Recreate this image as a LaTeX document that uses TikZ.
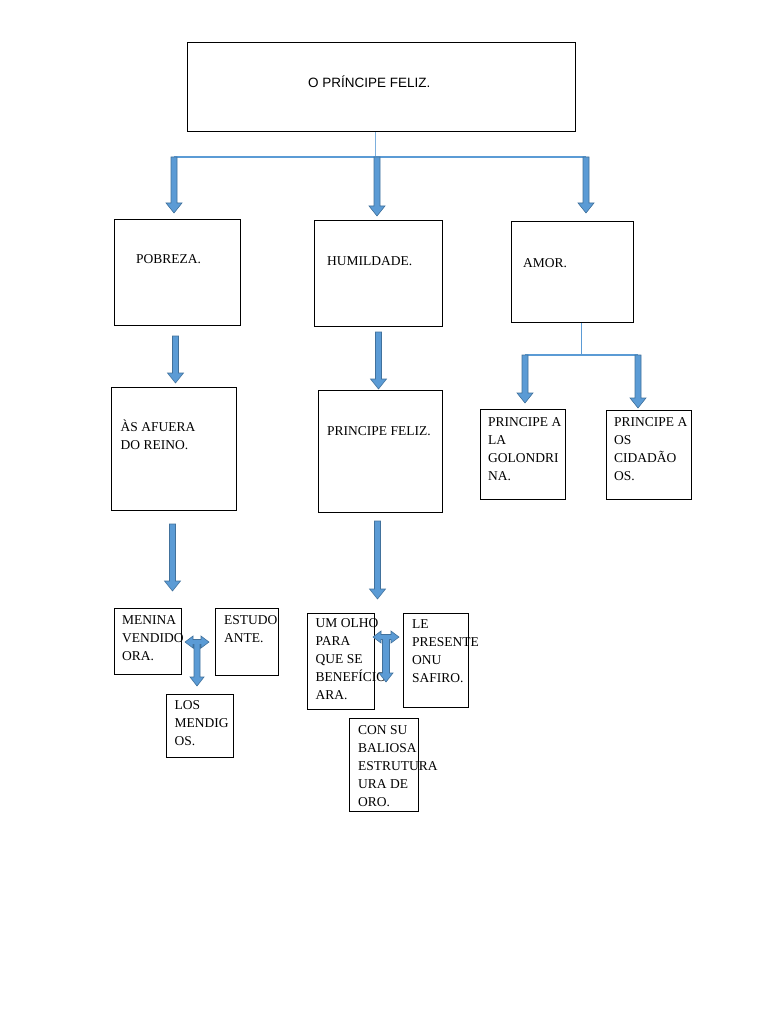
\documentclass[tikz,border=0pt]{standalone}
\usepackage{fontspec}
\setmainfont{Liberation Serif}
\newfontfamily\titlefont{Liberation Sans}
\usetikzlibrary{calc}

\definecolor{arrowfill}{HTML}{5B9BD5}
\definecolor{arrowedge}{HTML}{41719C}
\definecolor{linkblue}{HTML}{5B9BD5}

\begin{document}
\begin{tikzpicture}[
        x=1pt, y=-1pt,
        box/.style={draw, line width=1pt, inner sep=0pt, anchor=north west},
        txt/.style={anchor=north west, inner sep=0pt, align=left,
            font=\fontsize{13.5}{18}\selectfont, execute at begin node=\strut},
        link/.style={draw=linkblue, line width=1.2pt},
        blockdown/.style={draw=arrowedge, fill=arrowfill, line width=0.6pt,
            to path={let \p1=(\tikztostart), \p2=(\tikztotarget) in
                (\x1-3pt,\y1) -- (\x1-3pt,\y2+10pt) -- (\x1-8pt,\y2+10pt)
                -- (\x1,\y2) -- (\x1+8pt,\y2+10pt) -- (\x1+3pt,\y2+10pt)
                -- (\x1+3pt,\y1) -- cycle}},
        teearrow/.style={draw=arrowedge, fill=arrowfill, line width=0.6pt},
    ]
        \useasboundingbox (0,0) rectangle (768,1024);

        % boxes
        \node[box, minimum width=388pt, minimum height=89pt,
            label={[txt, font=\titlefont\fontsize{13.5}{18}\selectfont,
                xshift=121pt, yshift=-33pt]north west:O PRÍNCIPE FELIZ.}] (title) at (187,42) {};

        \node[box, minimum width=126pt, minimum height=106pt,
            label={[txt, xshift=22pt, yshift=-32pt]north west:POBREZA.}] (pobreza) at (114,219) {};
        \node[box, minimum width=128pt, minimum height=106pt,
            label={[txt, xshift=13pt, yshift=-33pt]north west:HUMILDADE.}] (humildade) at (314,220) {};
        \node[box, minimum width=122pt, minimum height=101pt,
            label={[txt, xshift=12pt, yshift=-33.5pt]north west:AMOR.}] (amor) at (511,221) {};

        \node[box, minimum width=125pt, minimum height=123pt,
            label={[txt, xshift=9.5pt, yshift=-32.8pt]north west:ÀS AFUERA\\DO REINO.}] (afuera) at (111,387) {};
        \node[box, minimum width=124pt, minimum height=122pt,
            label={[txt, xshift=9pt, yshift=-32.2pt]north west:PRINCIPE FELIZ.}] (pfeliz) at (318,390) {};
        \node[box, minimum width=85pt, minimum height=90pt,
            label={[txt, xshift=8pt, yshift=-8pt]north west:PRINCIPE A\\LA\\GOLONDRI\\NA.}] (golondrina) at (480,409) {};
        \node[box, minimum width=85pt, minimum height=89pt,
            label={[txt, xshift=8pt, yshift=-7.5pt]north west:PRINCIPE A\\OS\\CIDADÃO\\OS.}] (cidadao) at (606,410) {};

        \node[box, minimum width=67pt, minimum height=66pt,
            label={[txt, xshift=8pt, yshift=-7.5pt]north west:MENINA\\VENDIDO\\ORA.}] (menina) at (114,608) {};
        \node[box, minimum width=63pt, minimum height=67pt,
            label={[txt, xshift=9pt, yshift=-7.5pt]north west:ESTUDO\\ANTE.}] (estudo) at (215,608) {};
        \node[box, minimum width=67pt, minimum height=63pt,
            label={[txt, xshift=8.5pt, yshift=-6.5pt]north west:LOS\\MENDIG\\OS.}] (mendigos) at (166,694) {};

        \node[box, minimum width=67pt, minimum height=96pt,
            label={[txt, xshift=8.5pt, yshift=-5.5pt]north west:UM OLHO\\PARA\\QUE SE\\BENEFÍCIO\\ARA.}] (olho) at (307,613) {};
        \node[box, minimum width=65pt, minimum height=94pt,
            label={[txt, xshift=9pt, yshift=-6.5pt]north west:LE\\PRESENTE\\ONU\\SAFIRO.}] (safiro) at (403,613) {};
        \node[box, minimum width=69pt, minimum height=93pt,
            label={[txt, xshift=9pt, yshift=-7pt]north west:CON SU\\BALIOSA\\ESTRUTURA\\URA DE\\ORO.}] (oro) at (349,718) {};

        % branch points
        \coordinate (hub) at (375,157);
        \coordinate (hubL) at (174,157);
        \coordinate (hubM) at (377,157);
        \coordinate (hubR) at (586,157);
        \coordinate (amorhub) at (581,355);
        \coordinate (amorL) at (525,355);
        \coordinate (amorR) at (638,355);
        \coordinate (lefttip) at (172,591);
        \coordinate (midtip) at (377,599);
        \coordinate (leftfork) at (197,642);
        \coordinate (midfork) at (386,637);

        % connectors
        \draw[link, line width=0.6pt, draw=linkblue!80] (title.south -| hub) -- (hub);
        \draw[link] (hubL) -- (hubR);
        \draw[blockdown] (hubL) to ([yshift=6pt]hubL |- pobreza.north);
        \draw[blockdown] (hubM) to ([yshift=4pt]hubM |- humildade.north);
        \draw[blockdown] (hubR) to ([yshift=8pt]hubR |- amor.north);

        \draw[blockdown] ([xshift=-2pt, yshift=-10pt]pobreza.south) to ([yshift=4pt]afuera.north);
        \draw[blockdown] ([yshift=-5pt]humildade.south) to ([yshift=1pt]pfeliz.north);

        \draw[link, line width=0.9pt] (amor.south -| amorhub) -- (amorhub);
        \draw[link] (amorL) -- (amorR);
        \draw[blockdown] (amorL) to ([yshift=6pt]amorL |- golondrina.north);
        \draw[blockdown] (amorR) to ([yshift=2pt]amorR |- cidadao.north);

        \draw[blockdown] ([xshift=-1.5pt, yshift=-13pt]afuera.south) to (lefttip);
        \draw[blockdown] ([xshift=-3pt, yshift=-8pt]pfeliz.south) to (midtip);

        % three-way arrows
        \draw[teearrow, shift={(leftfork)}] (-12,0) -- (-4,-6) -- (-4,-2.5) -- (4,-2.5) -- (4,-6)
            -- (12,0) -- (4,6) -- (4,2.5) -- (3,2.5) -- (3,35) -- (7,35) -- (0,44)
            -- (-7,35) -- (-3,35) -- (-3,2.5) -- (-4,2.5) -- (-4,6) -- cycle;
        \draw[teearrow, shift={(midfork)}] (-13,0) -- (-5,-6) -- (-5,-2.5) -- (5,-2.5) -- (5,-6)
            -- (13,0) -- (5,6) -- (5,2.5) -- (3.5,2.5) -- (3.5,36) -- (7,36) -- (0,45)
            -- (-7,36) -- (-3.5,36) -- (-3.5,2.5) -- (-5,2.5) -- (-5,6) -- cycle;
    \end{tikzpicture}
\end{document}
